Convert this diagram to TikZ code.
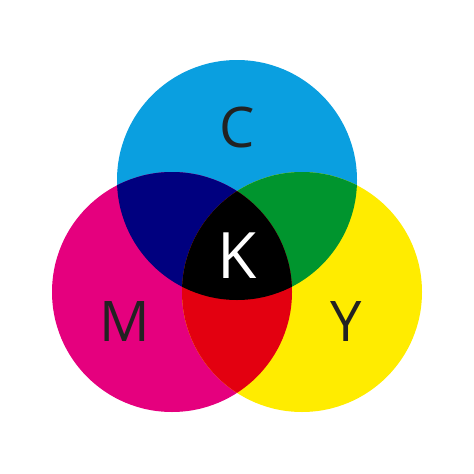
\documentclass[tikz,border=0pt]{standalone}
\usepackage{fontspec}
\setmainfont{Open Sans}
\usepackage{tikz}

\definecolor{cmykC}{HTML}{0A9FE0}
\definecolor{cmykM}{HTML}{E5007E}
\definecolor{cmykY}{HTML}{FFEC00}
\definecolor{mixCM}{HTML}{00007F}
\definecolor{mixCY}{HTML}{00952E}
\definecolor{mixMY}{HTML}{E30010}
\definecolor{letter}{HTML}{222222}

\begin{document}
\begin{tikzpicture}[x=1pt, y=-1pt,
        letter/.style={text=letter, inner sep=0pt, font=\fontsize{56}{56}\selectfont},
        ]
            \useasboundingbox (0,0) rectangle (474,474);

            % Mittelpunkte
            \coordinate (C) at (237,180);
            \coordinate (M) at (172,292);
            \coordinate (Y) at (302,292);

            % Grundfarben
            \fill [cmykC] (C) circle (120pt);
            \fill [cmykM] (M) circle (120pt);
            \fill [cmykY] (Y) circle (120pt);

            % Mischfarben
            \begin{scope}
                \clip (C) circle (120pt);
                \fill [mixCM] (M) circle (120pt);
                \fill [mixCY] (Y) circle (120pt);
            \end{scope}
            \begin{scope}
                \clip (M) circle (120pt);
                \fill [mixMY] (Y) circle (120pt);
            \end{scope}
            \begin{scope}
                \clip (C) circle (120pt);
                \clip (M) circle (120pt);
                \fill [black] (Y) circle (120pt);
            \end{scope}

            % Beschriftung
            \node [letter] (lC) at (237,127) {C};
            \node [letter] (lM) at (125,322) {M};
            \node [letter] (lY) at (346,322) {Y};
            \node [letter, text=white, font=\fontsize{64}{64}\selectfont] (lK) at (237,256) {K};

        \end{tikzpicture}
\end{document}
